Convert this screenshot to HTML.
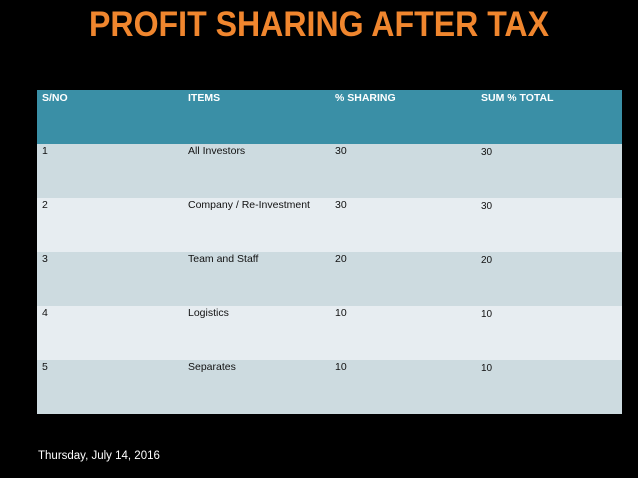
<!DOCTYPE html>
<html><head><meta charset="utf-8"><style>
html,body{margin:0;padding:0;background:#000;width:638px;height:478px;overflow:hidden;font-family:"Liberation Sans",sans-serif}
.row{position:absolute;left:37px;width:585px;height:54px}
.c{position:absolute;font-size:10.5px;color:#111}
.h .c{color:#fff;font-weight:bold}
</style></head><body>
<svg style="position:absolute;left:0;top:0" width="638" height="50">
<text x="89" y="36" textLength="460" lengthAdjust="spacingAndGlyphs" font-family="Liberation Sans, sans-serif" font-weight="bold" font-size="35" fill="#f0862e">PROFIT SHARING AFTER TAX</text>
</svg>
<div>
<div class="row h" style="top:90px;background:#3a8fa6">
<span class="c" style="left:5px;top:2px">S/NO</span><span class="c" style="left:151px;top:2px">ITEMS</span><span class="c" style="left:298px;top:2px">% SHARING</span><span class="c" style="left:444px;top:2px">SUM % TOTAL</span></div>
<div class="row" style="top:144px;background:#cddbe0">
<span class="c" style="left:5px;top:1px">1</span><span class="c" style="left:151px;top:1px">All Investors</span><span class="c" style="left:298px;top:1px">30</span><span class="c" style="left:444px;top:3px;font-size:10px">30</span></div>
<div class="row" style="top:198px;background:#e7edf1">
<span class="c" style="left:5px;top:1px">2</span><span class="c" style="left:151px;top:1px">Company / Re-Investment</span><span class="c" style="left:298px;top:1px">30</span><span class="c" style="left:444px;top:3px;font-size:10px">30</span></div>
<div class="row" style="top:252px;background:#cddbe0">
<span class="c" style="left:5px;top:1px">3</span><span class="c" style="left:151px;top:1px">Team and Staff</span><span class="c" style="left:298px;top:1px">20</span><span class="c" style="left:444px;top:3px;font-size:10px">20</span></div>
<div class="row" style="top:306px;background:#e7edf1">
<span class="c" style="left:5px;top:1px">4</span><span class="c" style="left:151px;top:1px">Logistics</span><span class="c" style="left:298px;top:1px">10</span><span class="c" style="left:444px;top:3px;font-size:10px">10</span></div>
<div class="row" style="top:360px;background:#cddbe0">
<span class="c" style="left:5px;top:1px">5</span><span class="c" style="left:151px;top:1px">Separates</span><span class="c" style="left:298px;top:1px">10</span><span class="c" style="left:444px;top:3px;font-size:10px">10</span></div>
</div>
<div style="position:absolute;left:38px;top:450px;color:#fff;font-size:11.5px">Thursday, July 14, 2016</div>
</body></html>
